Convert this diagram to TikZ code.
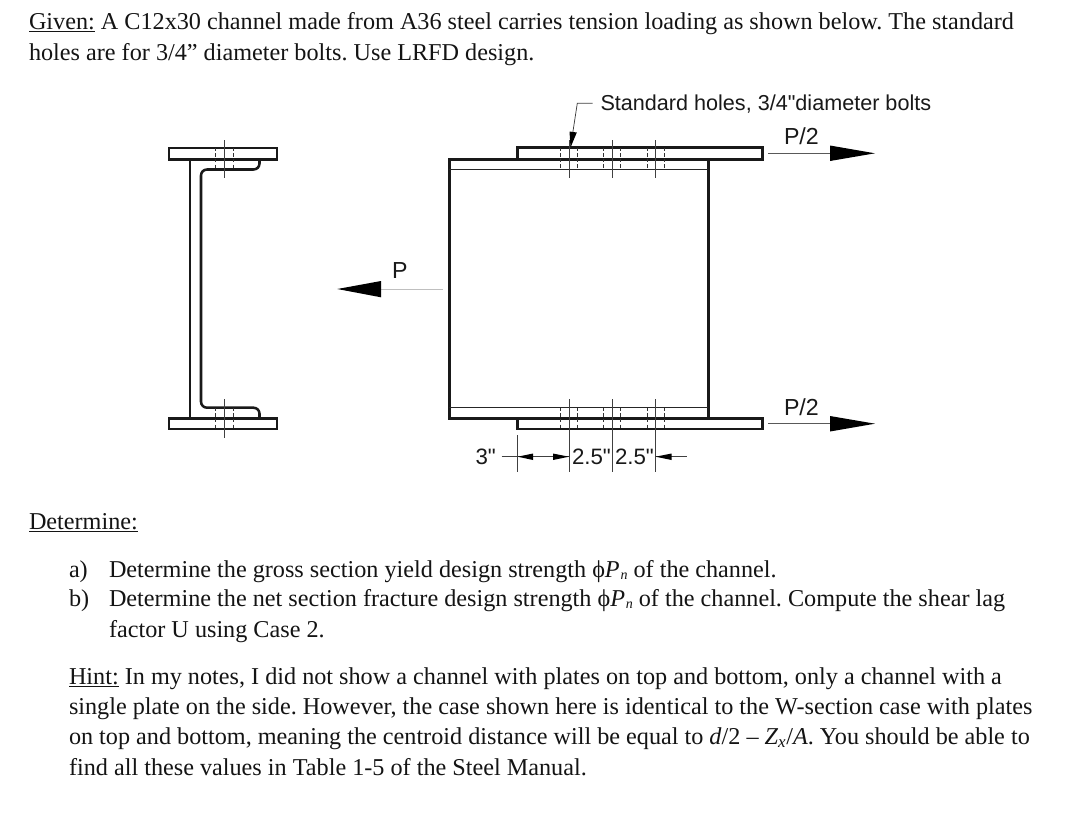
\documentclass[tikz,border=0pt]{standalone}
\usepackage{fontspec}
\setmainfont{Liberation Serif}
\newfontfamily\cadfont{Liberation Sans}
\frenchspacing
\tikzset{
  x=0.75pt,y=-0.75pt,
  body/.style={anchor=base west,inner sep=0pt,outer sep=0pt,font=\fontsize{18.15}{21}\selectfont,text=black!92},
  cad/.style={anchor=base west,inner sep=0pt,outer sep=0pt,font=\cadfont\fontsize{16.2}{19}\selectfont,text=black!90},
  cadbig/.style={cad,font=\cadfont\fontsize{17.4}{20}\selectfont},
  caddim/.style={cad,font=\cadfont\fontsize{16.7}{19}\selectfont},
  heavy/.style={draw=black!90,line width=1.9pt,line join=miter},
  medium/.style={draw=black!85,line width=0.8pt},
  centre/.style={draw=black!75,line width=0.5pt},
  hidden/.style={draw=black!80,line width=0.5pt,dash pattern=on 2.6pt off 1.6pt},
  head/.style={fill=black,draw=none},
  shaft/.style={draw=black!65,line width=0.6pt},
  fine/.style={draw=black!75,line width=0.55pt},
}
\newcommand{\phisym}{\symbol{"03D5}}
\newcommand{\Pn}{\textit{P}\kern0.6pt\raisebox{-2.2pt}{\fontsize{10.5}{12}\selectfont\textit{n}}}
\begin{document}
\begin{tikzpicture}
\useasboundingbox (0,0) rectangle (1090,826);
\fill[white] (0,0) rectangle (1090,826);

% ---- Text
\node[body] (t1) at (29,29) {\underline{Given:} A C12x30 channel made from A36 steel carries tension loading as shown below. The standard};
\node[body] (t2) at (29,60) {holes are for 3/4” diameter bolts. Use LRFD design.};
\node[body] (t3) at (29,529) {\underline{Determine:}};
\node[body] (a1) at (69,577) {a)};
\node[body] (a2) at (109,577) {Determine the gross section yield design strength \phisym\Pn{} of the channel.};
\node[body] (b1) at (69,606) {b)};
\node[body] (b2) at (109,606) {Determine the net section fracture design strength \phisym\Pn{} of the channel. Compute the shear lag};
\node[body] (b3) at (109,637) {factor U using Case 2.};
\node[body] (h1) at (69,684) {\underline{Hint:} In my notes, I did not show a channel with plates on top and bottom, only a channel with a};
\node[body] (h2) at (69,714) {single plate on the side. However, the case shown here is identical to the W-section case with plates};
\node[body] (h3) at (69,744) {on top and bottom, meaning the centroid distance will be equal to \textit{d}/2 – \textit{Z\textsubscript{x}}/\textit{A}. You should be able to};
\node[body] (h4) at (69,775) {find all these values in Table 1-5 of the Steel Manual.};

% ---- Section view (left)
\draw[heavy] (169,147.8) rectangle (277,159.3);
\draw[heavy] (169,418.3) rectangle (277,429);
\draw[heavy] (190,159.3) -- (190,418.3);
\draw[heavy,rounded corners=4.5pt] (259.5,159.3) -- (259.5,169.5) -- (201,169.5) -- (201,407.7) -- (259.5,407.7) -- (259.5,418.3);
\foreach \yy/\ya/\yb in {0/147.8/169.5,1/407.7/429}{
  \draw[hidden] (215.7,\ya) -- (215.7,\yb);
  \draw[hidden] (233.3,\ya) -- (233.3,\yb);
}
\draw[centre] (224.3,140) -- (224.3,178);
\draw[centre] (224.3,399) -- (224.3,437.7);

% ---- Side view (right)
\draw[heavy] (449.3,159.3) rectangle (708.3,418.3);
\draw[medium] (449.3,169.3) -- (708.3,169.3);
\draw[medium] (449.3,407.7) -- (708.3,407.7);
\draw[heavy,fill=white] (517.7,147.5) rectangle (762.7,159.3);
\draw[heavy,fill=white] (517.7,418.3) rectangle (762.7,429);
\foreach \xa in {560,577.7,603.3,620.7,647.3,664.7}{
  \draw[hidden] (\xa,147.5) -- (\xa,169.3);
  \draw[hidden] (\xa,407.7) -- (\xa,429);
}
\foreach \xc in {569,612,655.7}{
  \draw[centre] (\xc,140) -- (\xc,178.3);
  \draw[centre] (\xc,399) -- (\xc,472);
}
\draw[centre] (517.7,435) -- (517.7,472);

% ---- Leader
\coordinate (ldA) at (592.7,103.3);
\coordinate (ldB) at (577.3,103.3);
\coordinate (ldC) at (570.5,147.5);
\draw[fine] (ldA) -- (ldB) -- (ldC);
\fill[head] (ldC) -- (569.5,131.5) -- (576.8,132.5) -- cycle;
\node[cad] (lbl) at (600.5,110) {Standard holes, 3/4"diameter bolts};

% ---- Load arrows
\coordinate (p1a) at (768,153.3);
\coordinate (p1b) at (830,153.3);
\coordinate (p1t) at (875,153.3);
\draw[shaft] (p1a) -- (p1b);
\fill[head] (p1t) -- (830,145.5) -- (830,161) -- cycle;
\node[cadbig] (p1l) at (784,144.5) {P/2};

\coordinate (p2a) at (768,423.7);
\coordinate (p2b) at (830,423.7);
\coordinate (p2t) at (875,423.7);
\draw[shaft] (p2a) -- (p2b);
\fill[head] (p2t) -- (830,416) -- (830,431.5) -- cycle;
\node[cadbig] (p2l) at (784,415) {P/2};

\coordinate (pa) at (442.7,289);
\coordinate (pb) at (381,289);
\coordinate (pt) at (337.3,289);
\draw[draw=black!25,line width=0.6pt] (pa) -- (pb);
\fill[head] (pt) -- (381,281) -- (381,297.3) -- cycle;
\node[cadbig] (pl) at (392,278) {P};

% ---- Dimensions
\coordinate (d0) at (501.7,456.7);
\coordinate (d1) at (517.7,456.7);
\coordinate (d2) at (569,456.7);
\coordinate (d3) at (655.7,456.7);
\coordinate (d4) at (686.7,456.7);
\draw[fine] (d0) -- (d2);
\draw[fine] (d3) -- (d4);
\fill[head] (d1) -- (533,453.5) -- (533,460) -- cycle;
\fill[head] (d2) -- (553,453.5) -- (553,460) -- cycle;
\fill[head] (d3) -- (671.5,453.5) -- (671.5,460) -- cycle;
\node[caddim] (dl0) at (475.5,464) {3"};
\node[caddim] (dl1) at (572,464) {2.5"};
\node[caddim] (dl2) at (615,464) {2.5"};
\end{tikzpicture}
\end{document}
